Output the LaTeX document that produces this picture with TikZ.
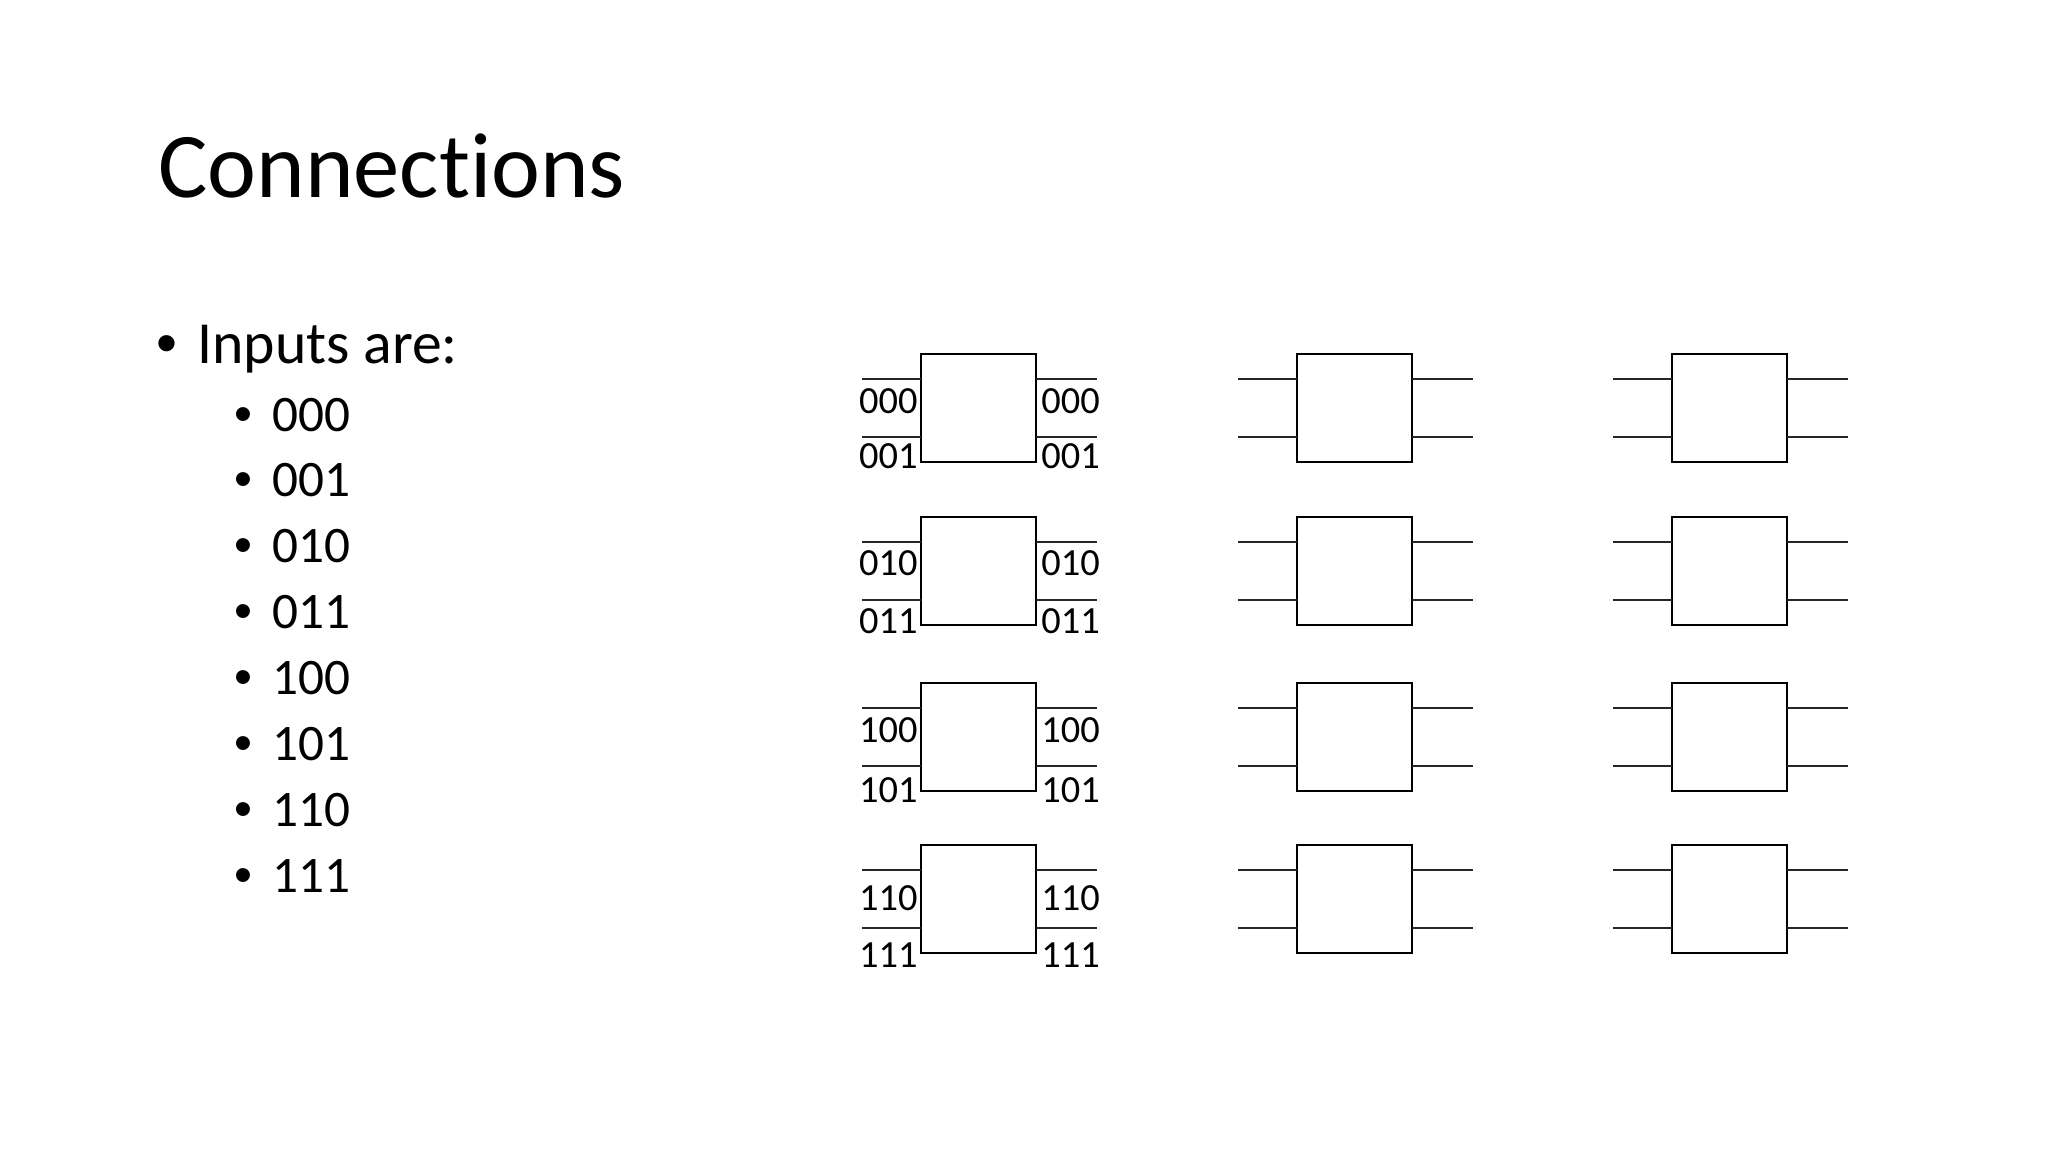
\documentclass[tikz,border=0pt]{standalone}
\usepackage{fontspec}
\setmainfont{Carlito}[Ligatures=NoCommon]
\newfontfamily\bulletfont{Liberation Sans}
\usetikzlibrary{calc}
\begin{document}
\begin{tikzpicture}[x=0.46875pt,y=-0.46875pt,
  blk/.style={draw=black,line width=0.9pt,fill=white,minimum width=53.9pt,minimum height=50.6pt,inner sep=0pt,outer sep=0pt},
  wire/.style={draw=black!85,line width=0.55pt},
  lbl/.style={inner sep=0pt,font=\fontsize{18}{21}\selectfont},
  titletext/.style={inner sep=0pt,anchor=base west,font=\fontsize{43.4}{52}\selectfont},
  lvlone/.style={inner sep=0pt,anchor=base west,font=\fontsize{28}{34}\selectfont},
  lvltwo/.style={inner sep=0pt,anchor=base west,font=\fontsize{24}{29}\selectfont},
  bulone/.style={inner sep=0pt,anchor=base west,font=\bulletfont\fontsize{28}{34}\selectfont},
  bultwo/.style={inner sep=0pt,anchor=base west,font=\bulletfont\fontsize{24}{29}\selectfont}]
\fill[white] (0,0) rectangle (2048,1152);
\useasboundingbox (0,0) rectangle (2048,1152);
% title
\node[titletext] (title) at (158,198) {Connections};
% bullet list
\node[bulone] (b0) at (156,363) {•};
\node[lvlone] (t0) at (197,363) {Inputs are:};
\foreach \v [count=\i from 0] in {000,001,010,011,100,101,110,111}{
  \pgfmathsetmacro{\yy}{431+65.9*\i}
  \node[bultwo] (sb\i) at (234,\yy) {•};
  \node[lvltwo] (st\i) at (272,\yy) {\v};
}
% boxes
\foreach \cx [count=\c] in {978.5,1354.5,1729.5}{
  \foreach \cy [count=\r] in {408,571,737,899}{
    \node[blk] (box\c\r) at (\cx,\cy) {};
    \coordinate (inA\c\r) at ($(box\c\r.west)+(-59,-29)$);
    \coordinate (inB\c\r) at ($(box\c\r.west)+(-59,29)$);
    \coordinate (outA\c\r) at ($(box\c\r.east)+(61,-29)$);
    \coordinate (outB\c\r) at ($(box\c\r.east)+(61,29)$);
    \draw[wire] (inA\c\r) -- (inA\c\r -| box\c\r.west);
    \draw[wire] (inB\c\r) -- (inB\c\r -| box\c\r.west);
    \draw[wire] (box\c\r.east |- outA\c\r) -- (outA\c\r);
    \draw[wire] (box\c\r.east |- outB\c\r) -- (outB\c\r);
  }
}
% labels in first column
\foreach \a/\b/\oa/\ob [count=\r] in {000/001/5/60,010/011/4/62,100/101/5/65,110/111/11/68}{
  \node[lbl,anchor=base east] (la\r) at ($(box1\r.west)+(-3,\oa)$) {\a};
  \node[lbl,anchor=base east] (lb\r) at ($(box1\r.west)+(-3,\ob)$) {\b};
  \node[lbl,anchor=base west] (ra\r) at ($(box1\r.east)+(5,\oa)$) {\a};
  \node[lbl,anchor=base west] (rb\r) at ($(box1\r.east)+(5,\ob)$) {\b};
}
\end{tikzpicture}
\end{document}
